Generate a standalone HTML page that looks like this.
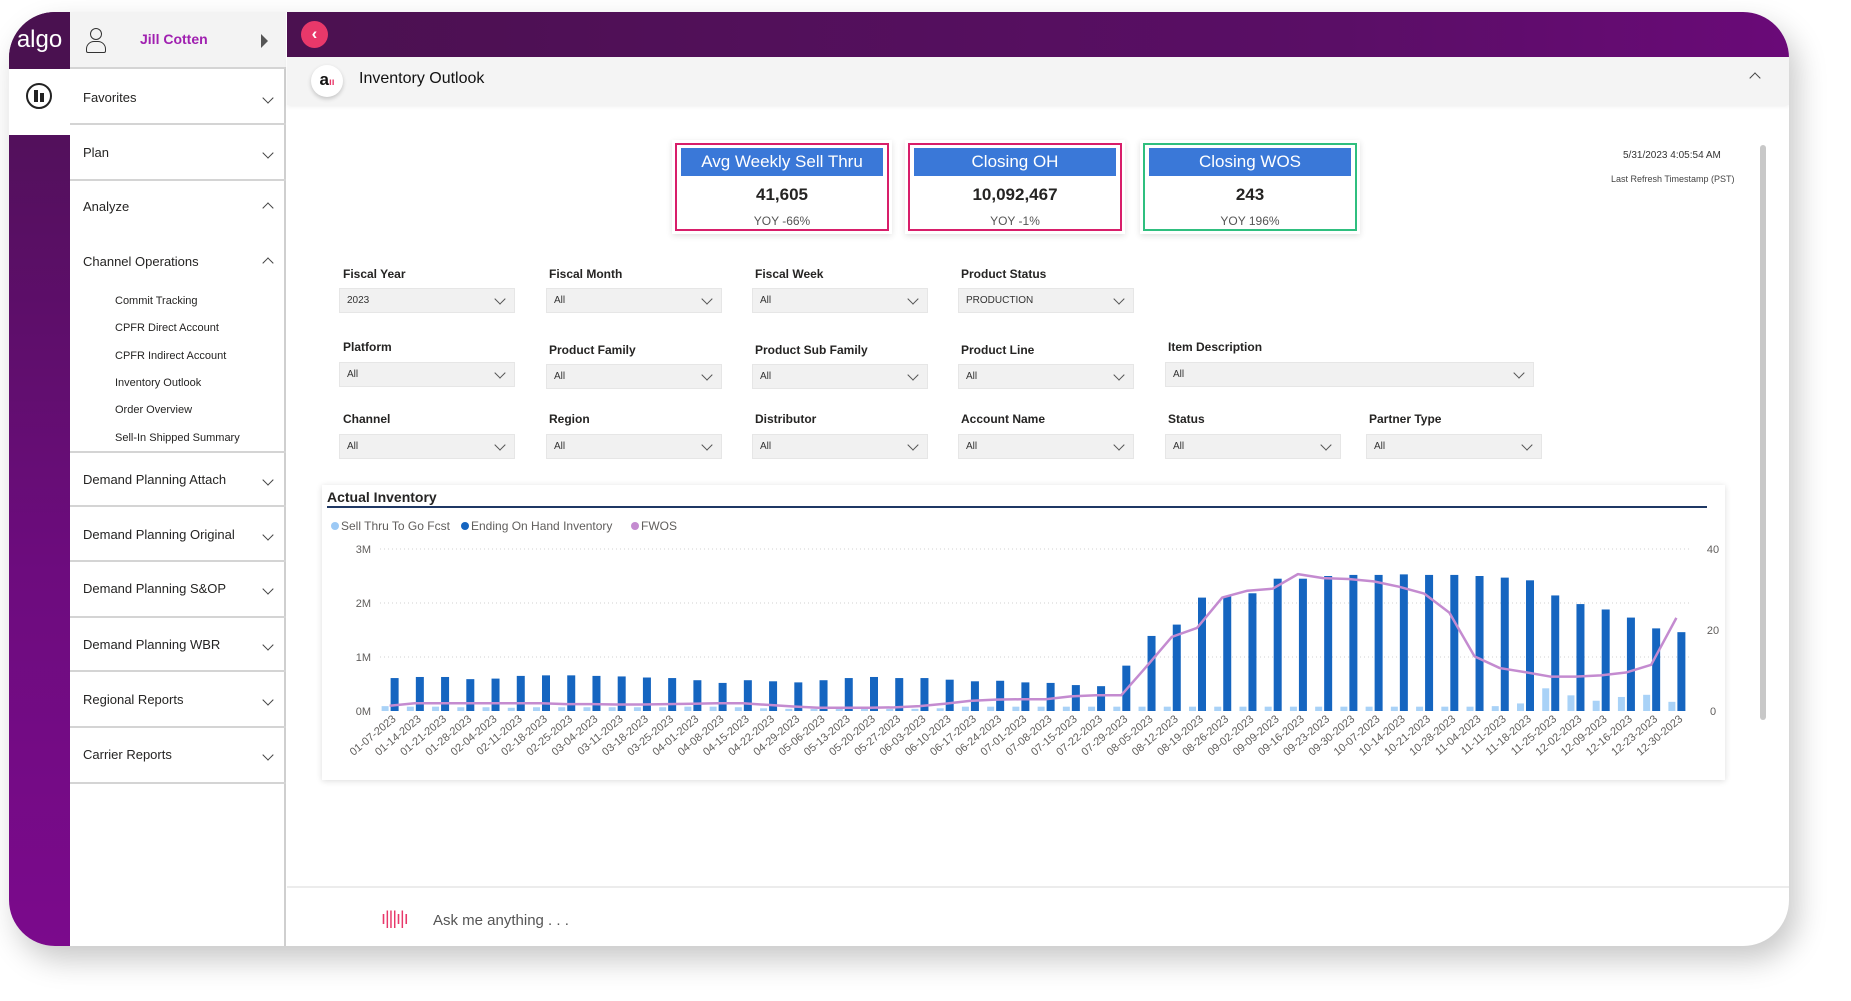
<!DOCTYPE html>
<html><head><meta charset="utf-8">
<style>
*{box-sizing:border-box;margin:0;padding:0}
body{width:1851px;height:1001px;background:#fff;font-family:"Liberation Sans",sans-serif;position:relative;overflow:hidden}
.abs{position:absolute}
#frame{position:absolute;left:9px;top:12px;width:1780px;height:934px;border-radius:46px;overflow:hidden;background:#fff;box-shadow:8px 14px 30px rgba(0,0,0,0.22)}
.menu{position:absolute;left:74px;font-size:13px;color:#252423}
.sub{position:absolute;left:106px;font-size:11px;color:#252423}
.line{position:absolute;left:61px;width:216px;height:2px;background:#d4d4d4}
.chev{position:absolute;left:255px;width:8px;height:8px;border-right:1.5px solid #444;border-bottom:1.5px solid #444;transform:rotate(45deg)}
.chev.up{transform:rotate(225deg)}
.kpi{position:absolute;top:128px;height:94px;width:220px;background:#fff;box-shadow:0 2px 6px rgba(0,0,0,0.12)}
.kpi .in{position:absolute;left:3px;top:3px;right:3px;bottom:3px;border:2px solid}
.kpi .tt{position:absolute;left:4px;right:4px;top:3px;height:28px;background:#3a78d8;color:#fff;font-size:17px;text-align:center;line-height:28px}
.kpi .v{position:absolute;left:0;right:0;top:40px;text-align:center;font-size:17px;font-weight:bold;color:#252423}
.kpi .y{position:absolute;left:0;right:0;top:69px;text-align:center;font-size:12px;color:#555}
.flab{position:absolute;font-size:12px;font-weight:bold;color:#252423}
.dd{position:absolute;height:25px;background:#f1f1f1;border:1px solid #e6e6e6;font-size:10px;color:#333;padding-left:7px;line-height:24px}
.dd::after{content:"";position:absolute;right:10px;top:6px;width:7px;height:7px;border-right:1px solid #555;border-bottom:1px solid #555;transform:rotate(45deg)}
</style></head><body>
<div id="frame">
  <div class="abs" style="left:0;top:0;width:61px;height:934px;background:linear-gradient(#4b1152,#6d0c7e 60%,#7b0a8c)"></div>
  <div class="abs" style="left:0;top:0;width:61px;height:57px;background:#4a1150;color:#fff;font-size:24px;text-align:center;padding-top:14px">algo</div>
  <div class="abs" style="left:0;top:57px;width:61px;height:66px;background:#fff">
    <div class="abs" style="left:17px;top:14px;width:26px;height:26px;border:2px solid #222;border-radius:50%"></div>
    <div class="abs" style="left:25px;top:21px;width:4px;height:12px;background:#222"></div>
    <div class="abs" style="left:31px;top:24px;width:4px;height:9px;background:#222"></div>
  </div>
  <div class="abs" style="left:61px;top:0;width:216px;height:934px;background:#fff;border-right:2px solid #cfcfcf"></div>
  <div class="abs" style="left:61px;top:0;width:216px;height:57px;background:#f3f3f3;border-bottom:2px solid #d4d4d4">
    <div class="abs" style="left:20px;top:16px;width:12px;height:12px;border:1.5px solid #333;border-radius:50%"></div>
    <div class="abs" style="left:16px;top:29px;width:20px;height:12px;border:1.5px solid #333;border-radius:8px 8px 2px 2px"></div>
    <div class="abs" style="left:70px;top:19px;font-size:14px;font-weight:bold;color:#a020b0">Jill Cotten</div>
    <div class="abs" style="left:191px;top:22px;width:0;height:0;border-left:7px solid #555;border-top:7px solid transparent;border-bottom:7px solid transparent"></div>
  </div>
  <div class="menu" style="top:78px">Favorites</div><div class="chev" style="top:82px"></div>
  <div class="line" style="top:111px"></div>
  <div class="menu" style="top:133px">Plan</div><div class="chev" style="top:137px"></div>
  <div class="line" style="top:167px"></div>
  <div class="menu" style="top:187px">Analyze</div><div class="chev up" style="top:192px"></div>
  <div class="menu" style="top:242px">Channel Operations</div><div class="chev up" style="top:247px"></div>
  <div class="sub" style="top:283px">Commit Tracking</div>
  <div class="sub" style="top:310px">CPFR Direct Account</div>
  <div class="sub" style="top:338px">CPFR Indirect Account</div>
  <div class="sub" style="top:365px">Inventory Outlook</div>
  <div class="sub" style="top:392px">Order Overview</div>
  <div class="sub" style="top:420px">Sell-In Shipped Summary</div>
  <div class="line" style="top:439px"></div>
  <div class="menu" style="top:460px">Demand Planning Attach</div><div class="chev" style="top:464px"></div>
  <div class="line" style="top:493px"></div>
  <div class="menu" style="top:515px">Demand Planning Original</div><div class="chev" style="top:519px"></div>
  <div class="line" style="top:548px"></div>
  <div class="menu" style="top:569px">Demand Planning S&amp;OP</div><div class="chev" style="top:573px"></div>
  <div class="line" style="top:604px"></div>
  <div class="menu" style="top:625px">Demand Planning WBR</div><div class="chev" style="top:629px"></div>
  <div class="line" style="top:658px"></div>
  <div class="menu" style="top:680px">Regional Reports</div><div class="chev" style="top:684px"></div>
  <div class="line" style="top:714px"></div>
  <div class="menu" style="top:735px">Carrier Reports</div><div class="chev" style="top:739px"></div>
  <div class="line" style="top:770px"></div>

  <div class="abs" style="left:278px;top:0;width:1502px;height:45px;background:linear-gradient(90deg,#4b1150,#5a0e66 70%,#6a0a78)"></div>
  <div class="abs" style="left:292px;top:9px;width:27px;height:27px;border-radius:50%;background:#e8386a;color:#fff;font-size:17px;font-weight:bold;text-align:center;line-height:26px">‹</div>
  <div class="abs" style="left:278px;top:45px;width:1502px;height:48px;background:#f4f4f4;box-shadow:0 2px 4px rgba(0,0,0,0.06)">
    <div class="abs" style="left:24px;top:8px;width:32px;height:32px;border-radius:50%;background:#fff;box-shadow:0 2px 4px rgba(0,0,0,0.2);font-size:17px;font-weight:bold;text-align:center;line-height:30px;color:#111">a<span style="color:#e8386a;font-size:10px">ıı</span></div>
    <div class="abs" style="left:72px;top:13px;font-size:16px;color:#111">Inventory Outlook</div>
    <div class="abs" style="left:1464px;top:17px;width:8px;height:8px;border-left:1.5px solid #444;border-top:1.5px solid #444;transform:rotate(45deg)"></div>
  </div>

  <div class="kpi" style="left:663px"><div class="in" style="border-color:#d81e6a"><div class="tt">Avg Weekly Sell Thru</div><div class="v">41,605</div><div class="y">YOY -66%</div></div></div>
  <div class="kpi" style="left:896px"><div class="in" style="border-color:#d81e6a"><div class="tt">Closing OH</div><div class="v">10,092,467</div><div class="y">YOY -1%</div></div></div>
  <div class="kpi" style="left:1131px"><div class="in" style="border-color:#2fbf7f"><div class="tt">Closing WOS</div><div class="v">243</div><div class="y">YOY 196%</div></div></div>
  <div class="abs" style="left:1614px;top:138px;font-size:10px;color:#333">5/31/2023 4:05:54 AM</div>
  <div class="abs" style="left:1602px;top:162px;font-size:9px;color:#444">Last Refresh Timestamp (PST)</div>
  <div class="abs" style="left:1751px;top:133px;width:6px;height:575px;background:#c8c8c8;border-radius:3px"></div>

  <div class="flab" style="left:334px;top:255px">Fiscal Year</div><div class="dd" style="left:330px;top:276px;width:176px">2023</div>
  <div class="flab" style="left:540px;top:255px">Fiscal Month</div><div class="dd" style="left:537px;top:276px;width:176px">All</div>
  <div class="flab" style="left:746px;top:255px">Fiscal Week</div><div class="dd" style="left:743px;top:276px;width:176px">All</div>
  <div class="flab" style="left:952px;top:255px">Product Status</div><div class="dd" style="left:949px;top:276px;width:176px">PRODUCTION</div>

  <div class="flab" style="left:334px;top:328px">Platform</div><div class="dd" style="left:330px;top:350px;width:176px">All</div>
  <div class="flab" style="left:540px;top:331px">Product Family</div><div class="dd" style="left:537px;top:352px;width:176px">All</div>
  <div class="flab" style="left:746px;top:331px">Product Sub Family</div><div class="dd" style="left:743px;top:352px;width:176px">All</div>
  <div class="flab" style="left:952px;top:331px">Product Line</div><div class="dd" style="left:949px;top:352px;width:176px">All</div>
  <div class="flab" style="left:1159px;top:328px">Item Description</div><div class="dd" style="left:1156px;top:350px;width:369px">All</div>

  <div class="flab" style="left:334px;top:400px">Channel</div><div class="dd" style="left:330px;top:422px;width:176px">All</div>
  <div class="flab" style="left:540px;top:400px">Region</div><div class="dd" style="left:537px;top:422px;width:176px">All</div>
  <div class="flab" style="left:746px;top:400px">Distributor</div><div class="dd" style="left:743px;top:422px;width:176px">All</div>
  <div class="flab" style="left:952px;top:400px">Account Name</div><div class="dd" style="left:949px;top:422px;width:176px">All</div>
  <div class="flab" style="left:1159px;top:400px">Status</div><div class="dd" style="left:1156px;top:422px;width:176px">All</div>
  <div class="flab" style="left:1360px;top:400px">Partner Type</div><div class="dd" style="left:1357px;top:422px;width:176px">All</div>

  <div class="abs" style="left:313px;top:473px;width:1403px;height:295px;background:#fff;box-shadow:0 1px 6px rgba(0,0,0,0.14)"></div>
  <svg id="chart" class="abs" style="left:0;top:0" width="1780" height="934"></svg>

  <div class="abs" style="left:278px;top:874px;width:1502px;height:2px;background:#ececec"></div>
  <div class="abs" style="left:372px;top:896px;font-size:18px;color:#e8386a;letter-spacing:-1px">ı|||ı|ı</div>
  <div class="abs" style="left:424px;top:900px;font-size:15px;color:#555">Ask me anything . . .</div>
</div>
<script>
const categories=["01-07-2023","01-14-2023","01-21-2023","01-28-2023","02-04-2023","02-11-2023","02-18-2023","02-25-2023","03-04-2023","03-11-2023","03-18-2023","03-25-2023","04-01-2023","04-08-2023","04-15-2023","04-22-2023","04-29-2023","05-06-2023","05-13-2023","05-20-2023","05-27-2023","06-03-2023","06-10-2023","06-17-2023","06-24-2023","07-01-2023","07-08-2023","07-15-2023","07-22-2023","07-29-2023","08-05-2023","08-12-2023","08-19-2023","08-26-2023","09-02-2023","09-09-2023","09-16-2023","09-23-2023","09-30-2023","10-07-2023","10-14-2023","10-21-2023","10-28-2023","11-04-2023","11-11-2023","11-18-2023","11-25-2023","12-02-2023","12-09-2023","12-16-2023","12-23-2023","12-30-2023"];
const endingOnHand=[0.61,0.63,0.63,0.59,0.60,0.65,0.66,0.66,0.65,0.64,0.62,0.61,0.57,0.52,0.57,0.55,0.53,0.57,0.61,0.63,0.61,0.61,0.58,0.55,0.56,0.53,0.52,0.48,0.46,0.84,1.39,1.60,2.10,2.13,2.18,2.45,2.45,2.50,2.52,2.52,2.53,2.52,2.52,2.50,2.47,2.42,2.14,1.98,1.88,1.73,1.53,1.46];
const sellThru=[0.09,0.08,0.08,0.07,0.07,0.06,0.07,0.07,0.07,0.07,0.07,0.07,0.08,0.08,0.07,0.05,0.04,0.04,0.04,0.04,0.04,0.04,0.05,0.08,0.08,0.08,0.08,0.08,0.08,0.08,0.08,0.08,0.08,0.08,0.08,0.08,0.08,0.08,0.08,0.08,0.08,0.08,0.08,0.08,0.09,0.14,0.42,0.29,0.19,0.26,0.30,0.17];
const fwos=[1.3,1.9,1.9,1.9,1.9,1.9,1.9,1.7,1.7,1.6,1.6,1.7,1.8,1.9,1.9,1.5,1.1,0.8,0.8,0.8,0.9,1.2,1.8,2.5,2.8,2.9,2.9,3.6,3.9,3.9,11.0,18.3,20.5,28.0,29.7,30.2,33.8,32.8,32.6,32.0,30.7,29.0,24.3,13.5,10.6,9.6,8.5,8.5,8.8,9.5,11.4,23.0];
const leftTicks=[0,1,2,3];
const leftTickLabels=["0M","1M","2M","3M"];
const rightTicks=[0,20,40];

const svg=document.getElementById('chart');
const NS='http://www.w3.org/2000/svg';
const X0=371,X1=1683,Y0=699,YT=537;
const yL=v=>Y0-(v/3)*(Y0-YT);
const yR=v=>Y0-(v/40)*(Y0-YT);
const band=(X1-X0)/categories.length;
const xC=i=>X0+band*(i+0.5);
function mk(tag,attrs,txt){const e=document.createElementNS(NS,tag);for(const k in attrs)e.setAttribute(k,attrs[k]);if(txt!==undefined)e.textContent=txt;svg.appendChild(e);return e;}

let t=mk('text',{x:318,y:490,'font-size':14,'font-weight':'bold',fill:'#252423','font-family':'Liberation Sans'},'Actual Inventory');


let ul=mk('rect',{x:318,y:494,width:1380,height:2,fill:'#1f3864'});



const legend=[["Sell Thru To Go Fcst","#9cc9f5",322],["Ending On Hand Inventory","#1565c0",452],["FWOS","#c48bd0",622]];
legend.forEach(l=>{
  const c=mk('circle',{cx:l[2]+4,cy:514,r:4,fill:l[1]});
  
  
  const tx=mk('text',{x:l[2]+10,y:518,'font-size':12,fill:'#605e5c','font-family':'Liberation Sans'},l[0]);
  
  
});

leftTicks.forEach((v,i)=>{
  if(v>0){const g=mk('line',{x1:X0,x2:X1,y1:yL(v),y2:yL(v),stroke:'#d0d0d0','stroke-dasharray':'1,3'});
  
  }
  const l=mk('text',{x:362,y:yL(v)+4,'text-anchor':'end','font-size':11,fill:'#605e5c','font-family':'Liberation Sans'},leftTickLabels[i]);
  
  
});
rightTicks.forEach(v=>{
  const l=mk('text',{x:1704,y:yR(v)+4,'text-anchor':'middle','font-size':11,fill:'#605e5c','font-family':'Liberation Sans'},String(v));
  
  
});

categories.forEach((c,i)=>{
  const cx=xC(i);
  const b1=mk('rect',{x:cx-11,y:yL(sellThru[i]),width:7,height:Y0-yL(sellThru[i]),fill:'#a9d2f7'});
  
  
  const b2=mk('rect',{x:cx-2,y:yL(endingOnHand[i]),width:8,height:Y0-yL(endingOnHand[i]),fill:'#1565c0'});
  
  
  const lx=cx+4,ly=708;
  const tl=mk('text',{x:lx,y:ly,'text-anchor':'end','font-size':11,fill:'#605e5c','font-family':'Liberation Sans',transform:`rotate(-40 ${lx} ${ly})`},c);
  
  
});
const pts=fwos.map((v,i)=>`${xC(i)-3},${yR(v)}`).join(' ');
const pl=mk('polyline',{points:pts,fill:'none',stroke:'#c48bd0','stroke-width':2.5,'stroke-linejoin':'round'});


</script>
</body></html>
